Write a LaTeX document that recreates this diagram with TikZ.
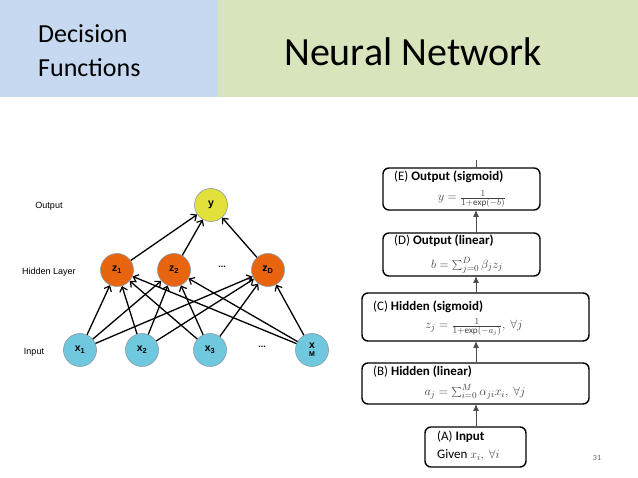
\documentclass[tikz,border=0pt]{standalone}
\usepackage{fontspec}
\setmainfont{Carlito}
\newfontfamily\nodefont{Liberation Sans}
\usetikzlibrary{arrows.meta}
\definecolor{hdrblue}{HTML}{C6D9F0}
\definecolor{hdrgreen}{HTML}{D8E4BC}
\definecolor{ycol}{HTML}{E2E03A}
\definecolor{zcol}{HTML}{E8640F}
\definecolor{xcol}{HTML}{70C8DE}
\definecolor{ringcol}{HTML}{8A9BA8}
\tikzset{
  neuron/.style={circle, minimum size=33pt, inner sep=0pt, draw=ringcol, line width=0.6pt, font=\nodefont\bfseries\fontsize{10.5}{11}\selectfont},
  layerlabel/.style={font=\nodefont\fontsize{9}{10}\selectfont, anchor=center},
  netedge/.style={line width=1.3pt, -{Straight Barb[length=4.5pt,width=8pt,line width=1.2pt]}},
  stepbox/.style={draw, line width=1.4pt, rounded corners=6pt},
  boxtitle/.style={font=\fontsize{13}{15}\selectfont, anchor=west, inner sep=0pt},
  boxmath/.style={font=\fontsize{13}{15}\selectfont, text=black!75, anchor=center, inner sep=0pt},
  flowarrow/.style={line width=1pt, draw=black!70, -{Latex[length=7pt,width=6pt]}}
}
\begin{document}
\begin{tikzpicture}[x=1pt,y=-1pt]
\useasboundingbox (0,0) rectangle (638,478);
\fill[white] (0,0) rectangle (638,478);
% header
\fill[hdrblue] (0,0) rectangle (218,97);
\fill[hdrgreen] (218,0) rectangle (638,97);
\node[anchor=west, align=left, font=\fontsize{26}{34}\selectfont, inner sep=0pt] (hdrleft) at (38,51) {Decision\\Functions};
\node[font=\fontsize{40}{44}\selectfont, inner sep=0pt] (hdrright) at (413,52) {Neural Network};

% layer labels
\node[layerlabel] (lout) at (49,206) {Output};
\node[layerlabel] (lhid) at (49,272) {Hidden Layer};
\node[layerlabel] (lin) at (34,352) {Input};

% neurons
\node[neuron, fill=ycol] (y) at (211,205) {y};
\node[neuron, fill=zcol] (z1) at (117,270) {z\textsubscript{1}};
\node[neuron, fill=zcol] (z2) at (174,270) {z\textsubscript{2}};
\node[neuron, fill=zcol] (zD) at (268,270) {z\textsubscript{D}};
\node[font=\nodefont\bfseries\fontsize{9}{10}\selectfont] (zdots) at (222,267) {...};
\node[neuron, fill=xcol] (x1) at (80,350) {x\textsubscript{1}};
\node[neuron, fill=xcol] (x2) at (142,350) {x\textsubscript{2}};
\node[neuron, fill=xcol] (x3) at (210,350) {x\textsubscript{3}};
\node[font=\nodefont\bfseries\fontsize{9}{10}\selectfont] (xdots) at (262,347) {...};
\node[neuron, fill=xcol, align=center] (xM) at (312,350) {x\\[-3pt]{\fontsize{7}{8}\selectfont M}};

% edges
\foreach \s in {x1,x2,x3,xM}{
  \foreach \t in {z1,z2,zD}{
    \draw[netedge] (\s) -- (\t);
  }
}
\foreach \s in {z1,z2,zD}{
  \draw[netedge] (\s) -- (y);
}

% flowchart
\draw[stepbox] (383,168) rectangle (540,210);
\draw[stepbox] (383,233) rectangle (540,276);
\draw[stepbox] (362,293) rectangle (589,341);
\draw[stepbox] (362,363) rectangle (589,404);
\draw[stepbox] (425,427) rectangle (526,467);
\coordinate (E) at (476,168);
\coordinate (Ebot) at (476,210);
\coordinate (Dtop) at (476,233);
\coordinate (Dbot) at (476,276);
\coordinate (Ctop) at (476,293);
\coordinate (Cbot) at (476,341);
\coordinate (Btop) at (476,363);
\coordinate (Bbot) at (476,404);
\coordinate (Atop) at (476,427);
\coordinate (Etail) at (476,160);
\draw[line width=1pt, draw=black!70] (Etail) -- (E);
\draw[flowarrow] (Dtop) -- (Ebot);
\draw[flowarrow] (Ctop) -- (Dbot);
\draw[flowarrow] (Btop) -- (Cbot);
\draw[flowarrow] (Atop) -- (Bbot);

\node[boxtitle] (te) at (394,177) {(E) \textbf{Output (sigmoid)}};
\node[boxmath] (fe) at (472,199) {$y = \frac{1}{1+\exp(-b)}$};
\node[boxtitle] (td) at (394,241) {(D) \textbf{Output (linear)}};
\node[boxmath] (fd) at (467,265) {$b = \sum_{j=0}^{D} \beta_j z_j$};
\node[boxtitle] (tc) at (373,307) {(C) \textbf{Hidden (sigmoid)}};
\node[boxmath] (fc) at (474,327) {$z_j = \frac{1}{1+\exp(-a_j)},\ \forall j$};
\node[boxtitle] (tb) at (373,372) {(B) \textbf{Hidden (linear)}};
\node[boxmath] (fb) at (475,392) {$a_j = \sum_{i=0}^{M} \alpha_{ji} x_i,\ \forall j$};
\node[boxtitle] (ta) at (437,437) {(A) \textbf{Input}};
\node[boxtitle] (fa) at (437,455) {Given {\color{black!75}$x_i,\ \forall i$}};

\node[font=\fontsize{8}{9}\selectfont, text=black!60] (pg) at (597,458) {31};
\end{tikzpicture}
\end{document}
